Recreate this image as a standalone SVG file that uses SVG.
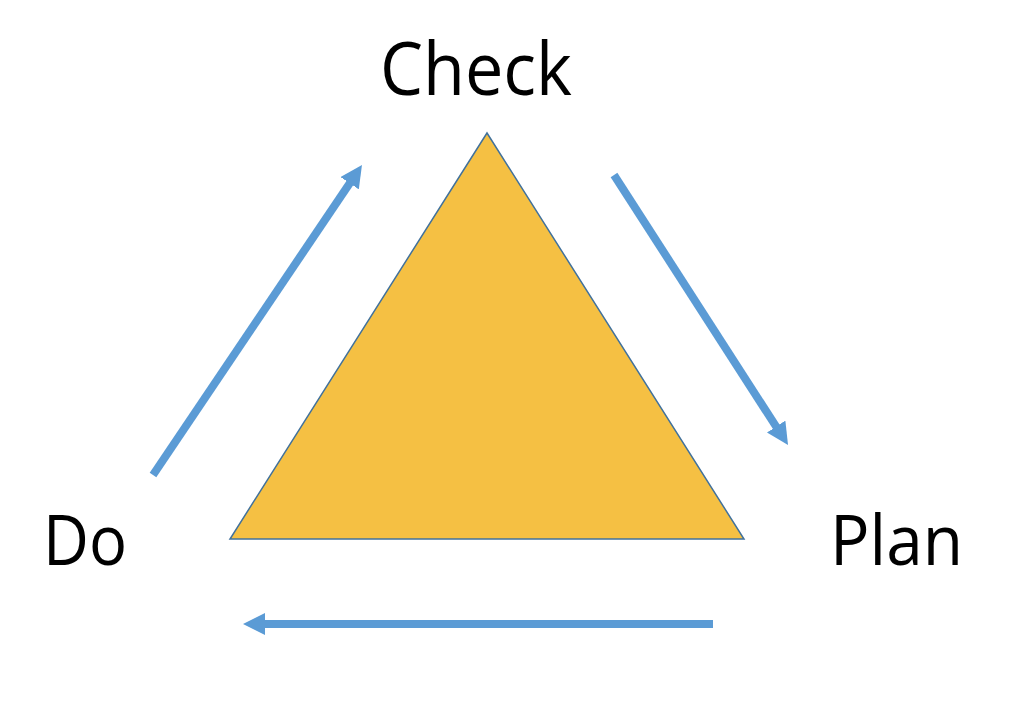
<svg xmlns="http://www.w3.org/2000/svg" width="1024" height="706" viewBox="0 0 1024 706">
<style>
.lbl{font-family:"Open Sans","Liberation Sans",sans-serif;fill:#000}
.arr{stroke:#5B9BD5;stroke-width:8;fill:none;marker-end:url(#ah)}
</style>
<defs>
<marker id="ah" viewBox="0 0 10 10" refX="1" refY="5" markerWidth="2.75" markerHeight="2.75" orient="auto" markerUnits="strokeWidth">
<path d="M0,0 L10,5 L0,10 z" fill="#5B9BD5"/>
</marker>
</defs>
<rect width="1024" height="706" fill="#fff"/>
<g id="triangle">
<polygon points="487,133 230,539 744,539" fill="#F5C043" stroke="#41719C" stroke-width="1.5"/>
</g>
<g id="check"><text class="lbl" x="380" y="95" font-size="74" textLength="192" lengthAdjust="spacingAndGlyphs">Check</text></g>
<g id="do"><text class="lbl" x="43" y="565" font-size="70" textLength="84" lengthAdjust="spacingAndGlyphs">Do</text></g>
<g id="plan"><text class="lbl" x="830" y="565" font-size="70" textLength="133" lengthAdjust="spacingAndGlyphs">Plan</text></g>
<g id="connectors">
<line class="arr" x1="153" y1="475" x2="350.9" y2="181.4"/>
<line class="arr" x1="614" y1="175" x2="777.3" y2="428.4"/>
<line class="arr" x1="713" y1="624" x2="262.8" y2="624"/>
</g>
</svg>
